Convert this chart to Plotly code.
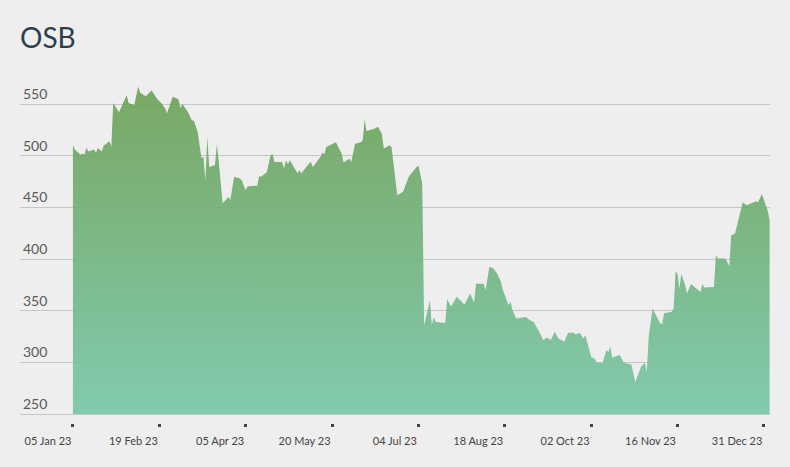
import plotly.graph_objects as go

title_text = "OSB"

dates = [
    "2023-01-05", "2023-01-06", "2023-01-09", "2023-01-10", "2023-01-11", "2023-01-12", "2023-01-13",
    "2023-01-15", "2023-01-16", "2023-01-17", "2023-01-18", "2023-01-20", "2023-01-21", "2023-01-24",
    "2023-01-25", "2023-01-26", "2023-01-29", "2023-02-02", "2023-02-03", "2023-02-06", "2023-02-08",
    "2023-02-09", "2023-02-12", "2023-02-15", "2023-02-18", "2023-02-20", "2023-02-22", "2023-02-23",
    "2023-02-26", "2023-03-01", "2023-03-02", "2023-03-03", "2023-03-06", "2023-03-08", "2023-03-09",
    "2023-03-11", "2023-03-13", "2023-03-14", "2023-03-15", "2023-03-16", "2023-03-17", "2023-03-20",
    "2023-03-21", "2023-03-22", "2023-03-24", "2023-03-27", "2023-03-28", "2023-03-30", "2023-04-02",
    "2023-04-03", "2023-04-05", "2023-04-06", "2023-04-11", "2023-04-12", "2023-04-13", "2023-04-16",
    "2023-04-18", "2023-04-19", "2023-04-20", "2023-04-24", "2023-04-25", "2023-04-26", "2023-04-27",
    "2023-04-28", "2023-05-02", "2023-05-03", "2023-05-04", "2023-05-08", "2023-05-09", "2023-05-10",
    "2023-05-14", "2023-05-15", "2023-05-16", "2023-05-17", "2023-05-22", "2023-05-25", "2023-05-26",
    "2023-05-29", "2023-05-30", "2023-06-01", "2023-06-04", "2023-06-05", "2023-06-06", "2023-06-07",
    "2023-06-11", "2023-06-13", "2023-06-15", "2023-06-16", "2023-06-19", "2023-06-20", "2023-06-23",
    "2023-06-26", "2023-06-27", "2023-06-29", "2023-07-02", "2023-07-04", "2023-07-06", "2023-07-07",
    "2023-07-10", "2023-07-11", "2023-07-12", "2023-07-13", "2023-07-18", "2023-07-19", "2023-07-21",
    "2023-07-24", "2023-07-28", "2023-07-31", "2023-08-02", "2023-08-03", "2023-08-07", "2023-08-08",
    "2023-08-10", "2023-08-12", "2023-08-14", "2023-08-16", "2023-08-17", "2023-08-20", "2023-08-21",
    "2023-08-22", "2023-08-24", "2023-08-29", "2023-08-31", "2023-09-02", "2023-09-05", "2023-09-07",
    "2023-09-09", "2023-09-11", "2023-09-13", "2023-09-15", "2023-09-18", "2023-09-20", "2023-09-23",
    "2023-09-24", "2023-09-26", "2023-09-28", "2023-09-29", "2023-10-02", "2023-10-04", "2023-10-05",
    "2023-10-08", "2023-10-10", "2023-10-11", "2023-10-12", "2023-10-13", "2023-10-17", "2023-10-19",
    "2023-10-23", "2023-10-25", "2023-10-28", "2023-10-30", "2023-10-31", "2023-11-01", "2023-11-03",
    "2023-11-07", "2023-11-08", "2023-11-09", "2023-11-13", "2023-11-14", "2023-11-15", "2023-11-16",
    "2023-11-17", "2023-11-18", "2023-11-20", "2023-11-21", "2023-11-23", "2023-11-28", "2023-11-29",
    "2023-11-30", "2023-12-05", "2023-12-06", "2023-12-07", "2023-12-11", "2023-12-13", "2023-12-14",
    "2023-12-16", "2023-12-18", "2023-12-20", "2023-12-22", "2023-12-27", "2023-12-28", "2023-12-30",
    "2024-01-01", "2024-01-02", "2024-01-03",
]

prices = [
    510, 506, 501, 502, 501, 508, 504,
    505, 506, 503, 507.5, 504, 509.5, 514,
    509, 551, 542, 558.5, 551, 549, 567,
    561, 557.5, 563, 554.6, 551, 546, 541,
    557, 554.6, 546, 550, 542, 534, 534,
    523, 497.6, 499, 476, 518, 489, 491,
    511, 494, 454, 460, 457, 479.5, 478,
    476, 466.6, 470.5, 471, 480, 479.5, 484,
    500.5, 501.5, 494, 494, 487.6, 495.6, 491.8,
    495.6, 483, 486, 483, 492.5, 494, 489,
    499, 503, 501.5, 508.5, 513, 502, 493.5,
    497, 494, 511.6, 513, 515, 535, 524,
    526, 528, 520.8, 507, 510, 508.5, 461.8,
    465, 470.5, 479.5, 486.6, 490.8, 473, 336,
    360, 336, 344, 339, 338, 361, 354,
    363.5, 356, 366.7, 357.6, 376, 376, 370,
    392.5, 391, 386, 378, 370, 355.4, 358.6,
    350.6, 342.5, 344, 341, 339, 329.6, 321.6,
    324, 321.6, 329.6, 323, 320, 328.6, 328.6,
    327, 328.6, 323, 326.4, 305.4, 303, 299.6,
    299.6, 312, 310, 315, 304.8, 307, 299.6,
    298, 281, 295.7, 299.6, 291, 324.7, 352,
    337.7, 337, 347.4, 349, 352, 387.6, 386,
    371.5, 385.4, 374.8, 366.7, 375.7, 368, 375.7,
    372.5, 373, 403.8, 400.6, 400.6, 393, 423,
    424.7, 440, 455, 452, 456, 455, 462.8,
    452, 447, 437.6,
]

y_ticks = [250, 300, 350, 400, 450, 500, 550]
baseline_value = 250

fig = go.Figure()
fig.add_trace(go.Scatter(
    x=dates, y=[baseline_value] * len(dates), mode="lines",
    line=dict(width=0, color="rgba(0,0,0,0)"), hoverinfo="skip", showlegend=False,
))
fig.add_trace(go.Scatter(
    x=dates, y=prices, mode="lines", fill="tonexty",
    line=dict(width=0, color="rgba(0,0,0,0)"),
    fillgradient=dict(
        type="vertical",
        colorscale=[[0, "rgba(118,198,167,0.9)"], [1, "rgba(107,160,83,0.9)"]],
        start=250, stop=570,
    ),
    showlegend=False, name="OSB",
))

fig.update_layout(
    width=790, height=467,
    paper_bgcolor="#eeeeee", plot_bgcolor="#eeeeee",
    margin=dict(l=20, r=20, t=78, b=44, autoexpand=False),
    font=dict(family="Lato, sans-serif"),
    title=dict(
        text=title_text, x=20 / 790, xref="container", xanchor="left",
        y=1 - 38 / 467, yref="container", yanchor="middle",
        font=dict(size=28, color="#2c3e4c", family="Lato, sans-serif"),
    ),
    xaxis=dict(
        type="date",
        range=["2022-12-08 10:00", "2024-01-03 05:00"],
        tick0="2023-01-05", dtick=45 * 86400000,
        tickformat="%d %b %y",
        showgrid=False, zeroline=False, showline=False,
        ticks="outside", ticklen=3, tickwidth=3, tickcolor="#3a4550",
        tickfont=dict(size=11, color="#444444"),
        ticklabelposition="outside left",
        ticklabelstandoff=8,
        ticklabeloverflow="allow",
        automargin=False,
    ),
    yaxis=dict(
        range=[241.3, 575.17],
        tickvals=y_ticks,
        showgrid=True, gridcolor="#c6c6c6", gridwidth=1,
        zeroline=False, showline=False, ticks="",
        ticklabelposition="inside top",
        tickfont=dict(size=14, color="#5a5a5a"),
        automargin=False,
    ),
)

fig.write_html("out.html")
